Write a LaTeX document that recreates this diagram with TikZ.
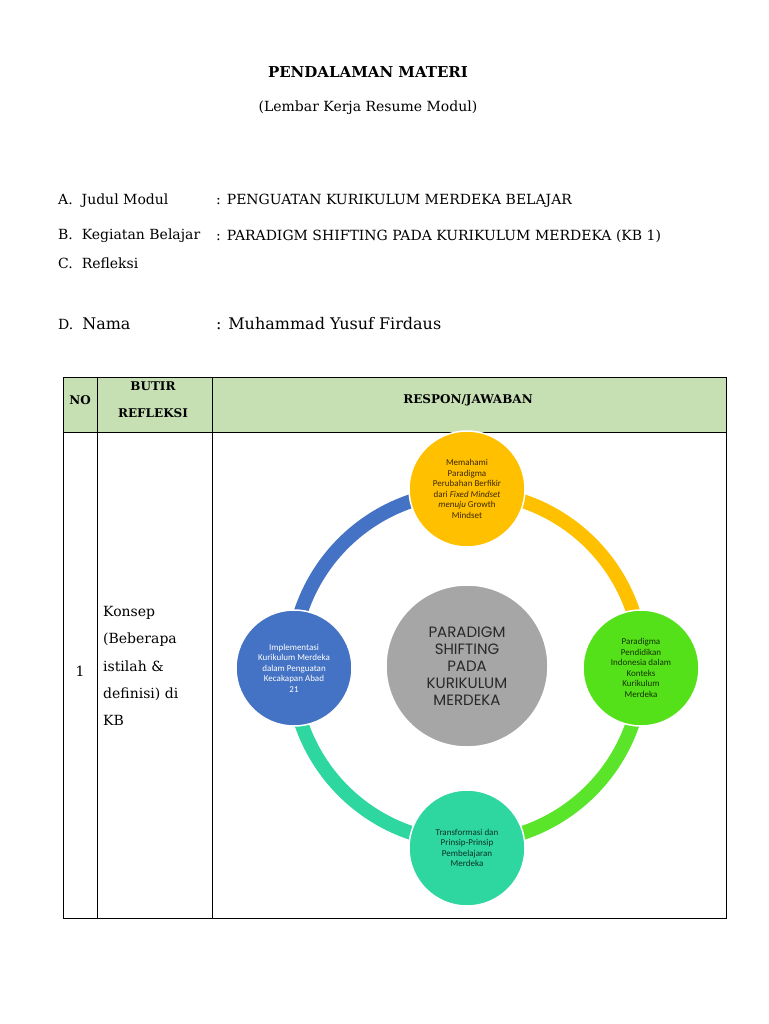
\documentclass[tikz,border=0pt]{standalone}
\usepackage{fontspec}
\setmainfont{DejaVu Serif}
\newfontfamily\smallsans{Carlito}
\newfontfamily\comic{Poppins}
\begin{document}
\begin{tikzpicture}[x=1pt,y=-1pt,
  txt/.style={font=\fontsize{14}{16}\selectfont,anchor=west,inner sep=0},
  ctr/.style={font=\fontsize{14}{16}\selectfont,inner sep=0},
  bub/.style={circle,draw=white,line width=1.5pt,minimum size=116pt,align=center,font=\smallsans\fontsize{9}{10.5}\selectfont,inner sep=0},
  ring/.style={line width=14pt}]
\useasboundingbox (0,0) rectangle (768,1024);
\node[ctr,font=\bfseries\fontsize{15}{18}\selectfont] (t) at (368,72) {PENDALAMAN MATERI};
\node[ctr] (t2) at (368,108) {(Lembar Kerja Resume Modul)};
\node[txt] (a1) at (58,201) {A.\ \ Judul Modul};
\node[txt] (a2) at (216,201) {: PENGUATAN KURIKULUM MERDEKA BELAJAR};
\node[txt] (b1) at (58,236) {B.\ \ Kegiatan Belajar};
\node[txt] (b2) at (216,236) {: PARADIGM SHIFTING PADA KURIKULUM MERDEKA (KB 1)};
\node[txt] (c1) at (58,263) {C.\ \ Refleksi};
\node[txt] (d1) at (58,324) {D.\ \ \fontsize{16}{18}\selectfont Nama};
\node[txt,font=\fontsize{16}{18}\selectfont] (d2) at (216,324) {: Muhammad Yusuf Firdaus};
% table
\fill[fill={rgb,255:red,198;green,224;blue,180}] (63,377) rectangle (726,432);
\draw[line width=0.8pt] (63,377) rectangle (726,918);
\draw[line width=0.8pt] (63,432) -- (726,432) (97,377) -- (97,918) (212,377) -- (212,918);
\node[ctr,font=\bfseries\fontsize{12}{14}\selectfont] (h1) at (80,400) {NO};
\node[ctr,font=\bfseries\fontsize{12}{14}\selectfont] (h2) at (153,386) {BUTIR};
\node[ctr,font=\bfseries\fontsize{12}{14}\selectfont] (h3) at (153,413) {REFLEKSI};
\node[ctr,font=\bfseries\fontsize{12}{14}\selectfont] (h4) at (468,400) {RESPON/JAWABAN};
\node[ctr] (n1) at (80,671) {1};
\node[anchor=north west,align=left,font=\fontsize{14}{27.3}\selectfont,inner sep=0] (k) at (103,606) {Konsep\\(Beberapa\\istilah \&\\definisi) di\\KB};
% ring (y axis points down: angle 270 is up)
\def\R{175}
\draw[ring,color={rgb,255:red,68;green,114;blue,196}] (467,667) ++(180:\R) arc[start angle=180,end angle=270,radius=\R];
\draw[ring,color={rgb,255:red,255;green,192;blue,0}] (467,667) ++(270:\R) arc[start angle=270,end angle=360,radius=\R];
\draw[ring,color={rgb,255:red,91;green,229;blue,42}] (467,667) ++(0:\R) arc[start angle=0,end angle=90,radius=\R];
\draw[ring,color={rgb,255:red,46;green,214;blue,160}] (467,667) ++(90:\R) arc[start angle=90,end angle=180,radius=\R];
\node[circle,fill={rgb,255:red,166;green,166;blue,166},draw=white,line width=1.5pt,minimum size=162pt,align=center,font=\comic\fontsize{15}{17}\selectfont,text={rgb,255:red,40;green,40;blue,40}] (c) at (467,666) {PARADIGM\\SHIFTING\\PADA\\KURIKULUM\\MERDEKA};
\node[bub,fill={rgb,255:red,255;green,192;blue,0},text={rgb,255:red,60;green,40;blue,0}] (top) at (467,489) {Memahami\\Paradigma\\Perubahan Berfikir\\dari \textit{Fixed Mindset}\\\textit{menuju} Growth\\Mindset};
\node[bub,fill={rgb,255:red,85;green,225;blue,26},text={rgb,255:red,20;green,50;blue,0}] (rt) at (641,668) {Paradigma\\Pendidikan\\Indonesia dalam\\Konteks\\Kurikulum\\Merdeka};
\node[bub,fill={rgb,255:red,46;green,214;blue,160},text={rgb,255:red,10;green,50;blue,40}] (bt) at (467,848) {Transformasi dan\\Prinsip-Prinsip\\Pembelajaran\\Merdeka};
\node[bub,fill={rgb,255:red,68;green,114;blue,196},text=white] (lf) at (294,668) {Implementasi\\Kurikulum Merdeka\\dalam Penguatan\\Kecakapan Abad\\21};
\end{tikzpicture}
\end{document}
